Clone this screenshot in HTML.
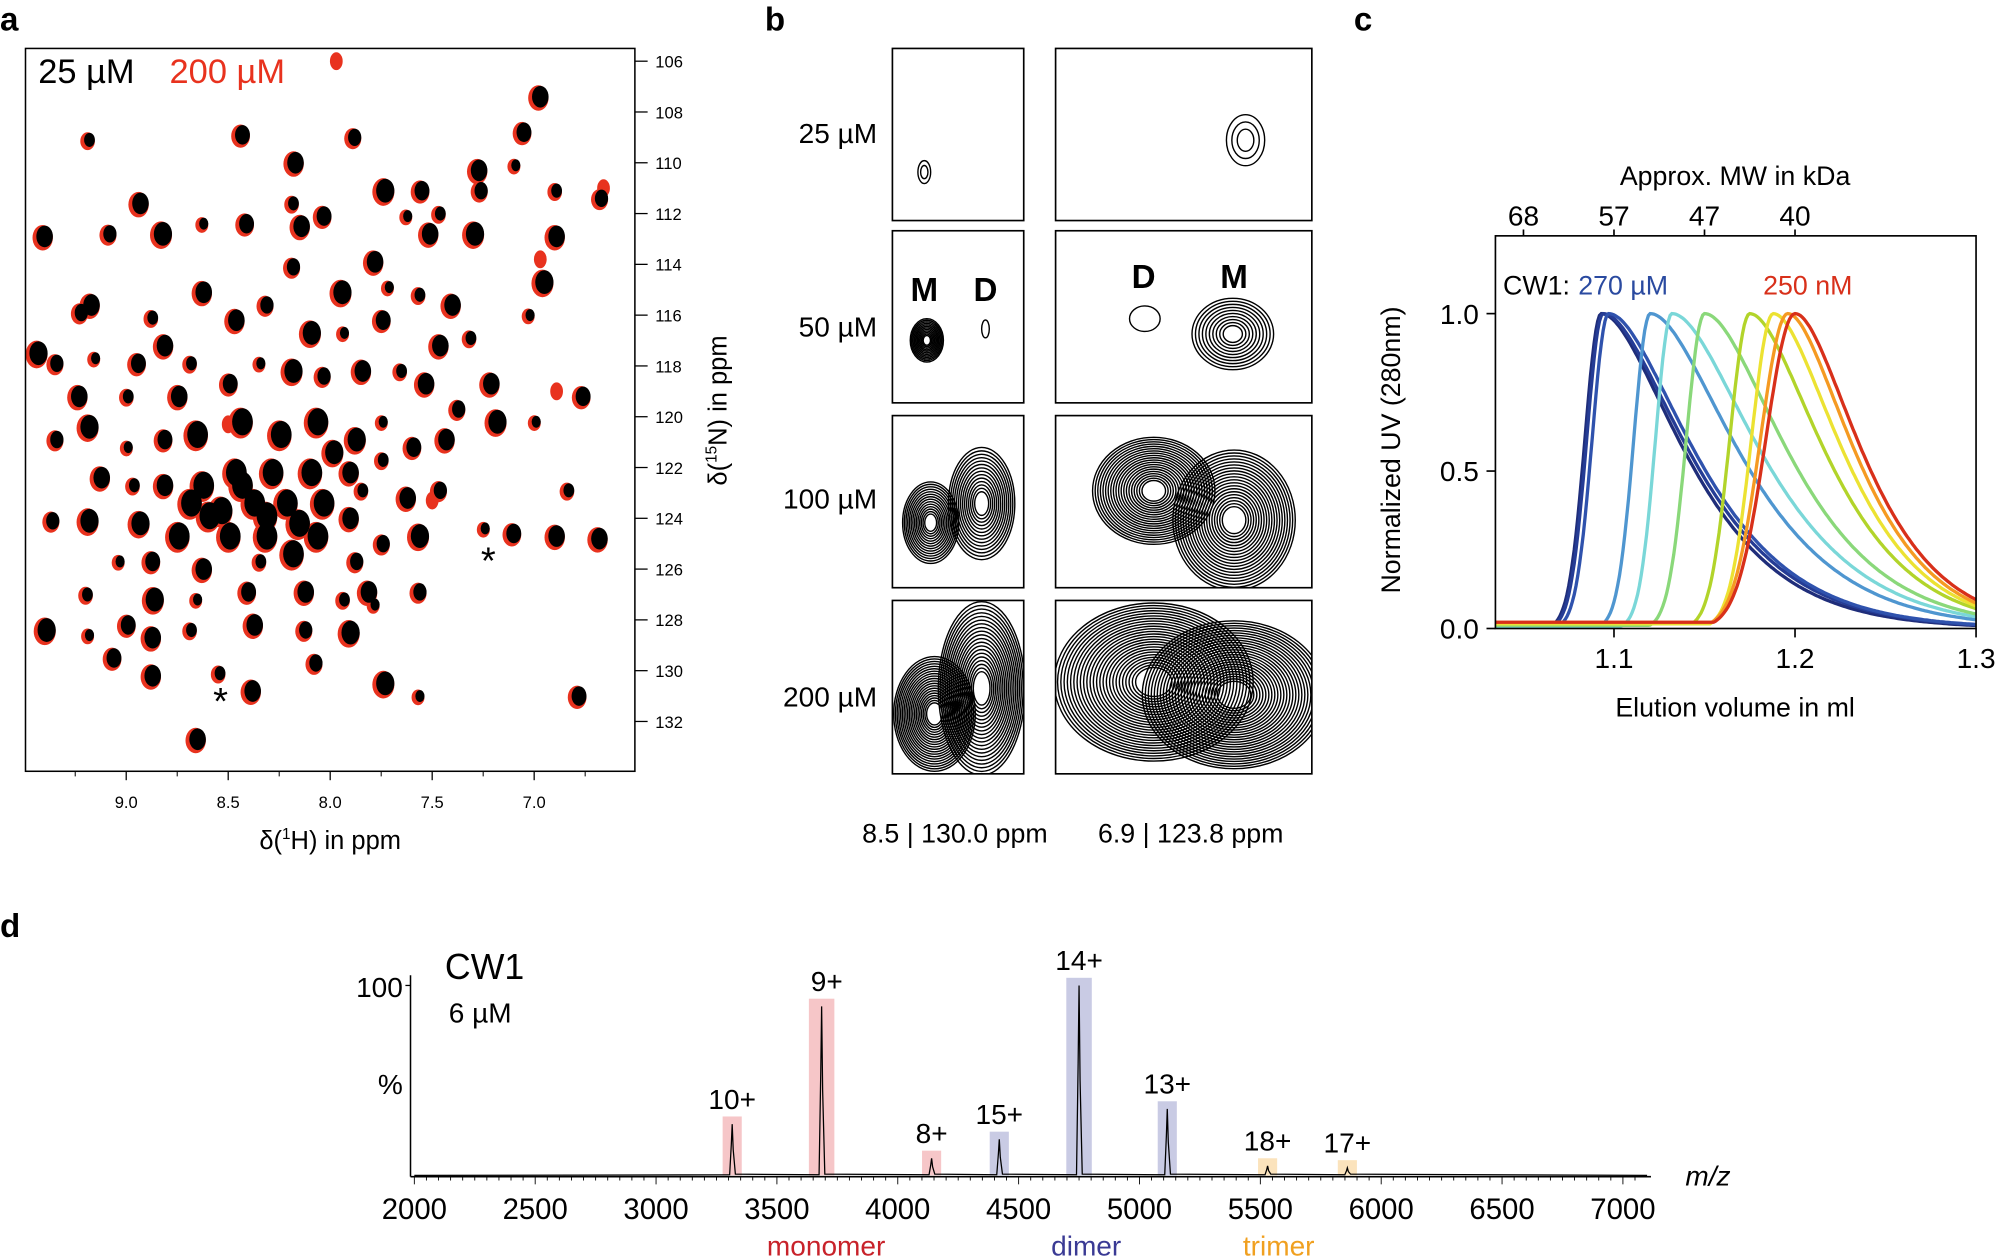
<!DOCTYPE html>
<html><head><meta charset="utf-8">
<style>
html,body{margin:0;padding:0;background:#fff;}
svg{display:block;font-family:"Liberation Sans",Arial,sans-serif;}
</style></head>
<body>
<svg id="fig" width="1999" height="1257" viewBox="0 0 1568 986" preserveAspectRatio="none" xmlns="http://www.w3.org/2000/svg">
  <text x="0" y="24" font-size="26" font-weight="bold">a</text>
  <text x="600" y="24" font-size="26" font-weight="bold">b</text>
  <text x="1062" y="24" font-size="26" font-weight="bold">c</text>
  <text x="0" y="735" font-size="26" font-weight="bold">d</text>

  <g id="pa">
    <defs><clipPath id="clipA"><rect x="20" y="38" width="478" height="567"/></clipPath></defs>
    <g id="peaksA" clip-path="url(#clipA)"></g>
    <rect x="20" y="38" width="478" height="567" fill="none" stroke="#000" stroke-width="1.2"/>
    <g id="axA"></g>
    <text x="30" y="65" font-size="27">25 µM</text>
    <text x="133" y="65" font-size="27" fill="#e8321e">200 µM</text>
    <text x="383" y="450" font-size="30" text-anchor="middle">*</text>
    <text x="173" y="560" font-size="30" text-anchor="middle">*</text>
    <text x="259" y="666" font-size="20" text-anchor="middle">δ(<tspan font-size="12" dy="-8">1</tspan><tspan dy="8">H) in ppm</tspan></text>
    <text transform="translate(570,322) rotate(-90)" font-size="20" text-anchor="middle">δ(<tspan font-size="12" dy="-8">15</tspan><tspan dy="8">N) in ppm</tspan></text>
  </g>

  <g id="pb">
    <text x="688" y="112" font-size="22" text-anchor="end">25 µM</text>
    <text x="688" y="264" font-size="22" text-anchor="end">50 µM</text>
    <text x="688" y="399" font-size="22" text-anchor="end">100 µM</text>
    <text x="688" y="554" font-size="22" text-anchor="end">200 µM</text>
    <g id="contours"></g>
    <text x="725" y="236" font-size="26" font-weight="bold" text-anchor="middle">M</text>
    <text x="773" y="236" font-size="26" font-weight="bold" text-anchor="middle">D</text>
    <text x="897" y="226" font-size="26" font-weight="bold" text-anchor="middle">D</text>
    <text x="968" y="226" font-size="26" font-weight="bold" text-anchor="middle">M</text>
    <text x="749" y="661" font-size="21" text-anchor="middle">8.5 | 130.0 ppm</text>
    <text x="934" y="661" font-size="21" text-anchor="middle">6.9 | 123.8 ppm</text>
  </g>

  <g id="pc">
    <defs><clipPath id="clipC"><rect x="1173" y="185" width="377" height="308"/></clipPath></defs>
    <g id="curvesC" clip-path="url(#clipC)"></g>
    <rect x="1173" y="185" width="377" height="308" fill="none" stroke="#000" stroke-width="1.3"/>
    <g id="axC"></g>
    <text x="1361" y="145" font-size="21" text-anchor="middle">Approx. MW in kDa</text>
    <text x="1361" y="562" font-size="21" text-anchor="middle">Elution volume in ml</text>
    <text transform="translate(1098,353) rotate(-90)" font-size="21" text-anchor="middle">Normalized UV (280nm)</text>
    <text x="1179" y="231" font-size="21">CW1:</text>
    <text x="1238" y="231" font-size="21" fill="#2a4aa0">270 µM</text>
    <text x="1383" y="231" font-size="21" fill="#d8301a">250 nM</text>
  </g>

  <g id="pd">
    <g id="hlD"></g>
    <g id="specD"></g>
    <g id="axD"></g>
    <text x="349" y="768" font-size="28">CW1</text>
    <text x="352" y="802" font-size="22">6 µM</text>
    <text x="316" y="782" font-size="22" text-anchor="end">100</text>
    <text x="316" y="858" font-size="22" text-anchor="end">%</text>
    <text x="1322" y="930" font-size="22" font-style="italic">m/z</text>
    <text x="648" y="985" font-size="22" fill="#c8222a" text-anchor="middle">monomer</text>
    <text x="852" y="985" font-size="22" fill="#3a3a94" text-anchor="middle">dimer</text>
    <text x="1003" y="985" font-size="22" fill="#f0a020" text-anchor="middle">trimer</text>
  </g>
</svg>
<script>
const NS="http://www.w3.org/2000/svg";
function mk(tag,attrs,parent){const e=document.createElementNS(NS,tag);for(const k in attrs)e.setAttribute(k,attrs[k]);parent.appendChild(e);return e;}

/* ---------- Panel a data ---------- */
const peakH=[9.18,8.93,9.08,8.82,8.62,8.43,8.17,8.18,8.14,7.88,7.73,7.62,7.55,7.51,7.46,7.27,7.26,7.29,7.09,7.05,6.97,6.89,6.89,6.67,6.95,7.02,8.03,7.78,7.56,7.40,8.18,7.94,7.71,8.41,8.62,8.87,9.17,9.34,9.43,9.15,8.94,8.81,8.68,8.46,8.31,8.09,7.93,7.74,7.46,7.31,7.53,7.37,7.18,6.99,6.76,7.21,7.65,7.84,8.03,8.18,8.34,8.49,8.74,8.99,9.23,9.34,9.18,8.99,8.81,8.65,8.43,8.24,8.06,7.87,7.74,7.59,7.43,7.74,7.90,8.09,8.28,8.46,8.62,8.81,8.96,9.12,8.68,8.53,8.37,8.21,8.03,7.84,7.62,7.46,8.93,8.74,8.49,8.31,8.06,7.90,7.74,7.56,7.24,7.10,6.89,6.83,6.68,9.36,9.18,9.03,8.87,8.62,8.34,8.18,7.87,8.86,8.65,8.40,8.12,7.93,7.81,7.56,9.39,9.18,8.99,8.87,8.68,8.37,8.12,7.90,7.78,9.06,8.87,8.54,8.38,8.07,7.73,7.56,6.78,8.65,9.19,9.40,9.22,7.98,8.43,8.31,8.59,8.15];
const peakN=[109.1,111.6,112.8,112.8,112.4,108.9,110.0,111.6,112.5,109.0,111.1,112.1,111.1,112.8,112.0,110.3,111.1,112.8,110.1,108.8,107.4,111.1,112.9,111.4,114.7,116.0,112.1,113.9,115.2,115.6,114.1,115.1,114.9,112.4,115.1,116.1,115.6,117.9,117.5,117.7,117.9,117.2,117.9,116.2,115.6,116.7,116.7,116.2,117.2,116.9,118.7,119.7,120.2,120.2,119.2,118.7,118.2,118.2,118.4,118.2,117.9,118.7,119.2,119.2,119.2,120.9,120.4,121.2,120.9,120.7,120.2,120.7,120.2,120.9,120.2,121.2,120.9,121.7,122.2,122.2,122.2,122.2,122.7,122.7,122.7,122.4,123.4,123.7,123.4,123.4,123.4,122.9,123.2,122.9,124.2,124.7,124.7,124.7,124.7,124.0,125.0,124.7,124.4,124.6,124.7,122.9,124.8,124.1,124.1,125.7,125.7,126.0,125.7,125.4,125.7,127.2,127.2,126.9,126.9,127.2,126.9,126.9,128.4,128.6,128.2,128.7,128.4,128.2,128.4,128.5,127.4,129.5,130.2,130.1,130.8,129.7,130.5,131.0,131.0,132.7,127.0,112.9,115.9,121.4,122.7,123.9,123.9,124.2];
const redOnlyH=[7.97,6.97,6.89,6.66,8.50,7.50];
const redOnlyN=[106.0,113.8,119.0,111.0,120.3,123.3];
const xTicksA=[9.0,8.5,8.0,7.5,7.0];
const yTicksA=[106,108,110,112,114,116,118,120,122,124,126,128,130,132];

const xA=h=>99+(9.0-h)*160;
const yA=n=>48+(n-106)*19.92;
const gA=document.getElementById('peaksA');
function isBig(i){return peakN[i]>119.5&&peakN[i]<125.5&&peakH[i]>8.0&&peakH[i]<8.8;}
function sz(i){const s=[0.65,1,0.8,1.1,0.55,0.9,1][i%7];return s;}
for(let i=0;i<redOnlyH.length;i++){
  const e=mk('ellipse',{cx:xA(redOnlyH[i]),cy:yA(redOnlyN[i]),rx:5,ry:7,fill:'#e8321e'},gA);
  
  
}
for(let i=0;i<peakH.length;i++){
  const s=isBig(i)?1.25:sz(i);
  const r=mk('ellipse',{cx:xA(peakH[i])-1.5,cy:yA(peakN[i])+1,rx:6.5*s+1.5,ry:8.5*s+1.5,fill:'#e8321e'},gA);
  
  
}
for(let i=0;i<peakH.length;i++){
  const s=isBig(i)?1.25:sz(i);
  const b=mk('ellipse',{cx:xA(peakH[i]),cy:yA(peakN[i]),rx:6.5*s,ry:8.5*s,fill:'#000'},gA);
  
  
}
const axA=document.getElementById('axA');
xTicksA.forEach(t=>{
  const l=mk('line',{x1:xA(t),x2:xA(t),y1:605,y2:612,stroke:'#000','stroke-width':1},axA);
  
  
  const tx=mk('text',{x:xA(t),y:634,'font-size':13,'text-anchor':'middle'},axA);tx.textContent=t.toFixed(1);
  
  
});
[9.25,8.75,8.25,7.75,7.25,6.75].forEach(t=>{mk('line',{x1:xA(t),x2:xA(t),y1:605,y2:609,stroke:'#000','stroke-width':0.8},axA);});
yTicksA.forEach(t=>{
  const l=mk('line',{x1:498,x2:508,y1:yA(t),y2:yA(t),stroke:'#000','stroke-width':1},axA);
  
  
  const tx=mk('text',{x:514,y:yA(t)+5,'font-size':13},axA);tx.textContent=t;
  
  
});

/* ---------- Panel b contours ---------- */
const boxesB=[[700,38,103,135],[828,38,201,135],[700,181,103,135],[828,181,201,135],[700,326,103,135],[828,326,201,135],[700,471,103,136],[828,471,201,136]];
const lobesB=[
 [[725,135,5,9,2]],
 [[977,110,15,20,3]],
 [[727,267,13,17,12],[773,258,3,7,1]],
 [[898,250,12,10,1],[967,262,32,28,10]],
 [[730,410,22,32,14],[770,395,26,44,14]],
 [[905,385,48,42,20],[968,408,48,55,20]],
 [[733,560,32,45,20],[770,540,34,68,20]],
 [[905,535,78,62,26],[968,545,72,58,26]]
];
const gB=document.getElementById('contours');
boxesB.forEach((b,i)=>{
  const id='clipB'+i;
  const cp=mk('clipPath',{id:id},gB);mk('rect',{x:b[0],y:b[1],width:b[2],height:b[3]},cp);
  const g=mk('g',{'clip-path':`url(#${id})`},gB);
  lobesB[i].forEach(L=>{
    const n=L[4];
    for(let k=1;k<=n;k++){
      const f=n===1?1:(0.15+0.85*k/n);
      const e=mk('ellipse',{cx:L[0],cy:L[1],rx:L[2]*f,ry:L[3]*f,fill:'none',stroke:'#000','stroke-width':1.1},g);
      
      
    }
  });
  const r=mk('rect',{x:b[0],y:b[1],width:b[2],height:b[3],fill:'none',stroke:'#000','stroke-width':1.3},gB);
  
  
});

/* ---------- Panel c data ---------- */
const peakVol=[1.093,1.094,1.097,1.12,1.132,1.15,1.175,1.188,1.196,1.2];
const riseSigma=[0.009,0.009,0.009,0.009,0.009,0.01,0.011,0.012,0.015,0.016];
const tailTau=[0.031,0.032,0.032,0.033,0.033,0.031,0.028,0.026,0.025,0.025];
const baseline=[0,0,0,0,0,0.01,0.015,0.015,0.02,0.02];
const seriesColors=['#1f2d7a','#253c95','#2f52ad','#4f96d0','#7ad7d8','#8ad87a','#b2d42a','#ece232','#f59a22','#d8301a'];
const xTicksC=[1.1,1.2,1.3];
const yTicksC=[0.0,0.5,1.0];
const topTickLabels=['68','57','47','40'];
const topTickVol=[1.05,1.1,1.15,1.2];
const xC=v=>1266+(v-1.1)*1420;
const yC=u=>493-u*247;
const gC=document.getElementById('curvesC');
peakVol.forEach((p,i)=>{
  let d='';
  for(let v=1.03;v<=1.305;v+=0.001){
    const dd=v-p;let u;
    if(dd<0)u=Math.exp(-dd*dd/(2*riseSigma[i]*riseSigma[i]));
    else u=Math.exp(-dd/tailTau[i])*(1+dd/tailTau[i]);
    u=Math.max(u,baseline[i]);
    d+=(d?'L':'M')+xC(v).toFixed(1)+','+yC(u).toFixed(1);
  }
  const pth=mk('path',{d:d,fill:'none',stroke:seriesColors[i],'stroke-width':2.6},gC);
  
  
});
const axC=document.getElementById('axC');
xTicksC.forEach(t=>{
  mk('line',{x1:xC(t),x2:xC(t),y1:493,y2:500,stroke:'#000','stroke-width':1.3},axC);
  const tx=mk('text',{x:xC(t),y:524,'font-size':22,'text-anchor':'middle'},axC);tx.textContent=t.toFixed(1);
  
  
});
yTicksC.forEach(t=>{
  mk('line',{x1:1166,x2:1173,y1:yC(t),y2:yC(t),stroke:'#000','stroke-width':1.3},axC);
  const tx=mk('text',{x:1160,y:yC(t)+8,'font-size':22,'text-anchor':'end'},axC);tx.textContent=t.toFixed(1);
  
  
});
topTickVol.forEach((v,i)=>{
  const x=xC(v);
  mk('line',{x1:x,x2:x,y1:180,y2:185,stroke:'#000','stroke-width':1.3},axC);
  const tx=mk('text',{x:x,y:177,'font-size':22,'text-anchor':'middle'},axC);tx.textContent=topTickLabels[i];
  
  
});

/* ---------- Panel d data ---------- */
const msLabels=['10+','9+','8+','15+','14+','13+','18+','17+'];
const msMz=[3315,3685,4140,4420,4750,5115,5530,5860];
const msIntensity=[27,89,9,19,100,35,5,4];
const msGroup=['m','m','m','d','d','d','t','t'];
const xTicksD=[2000,2500,3000,3500,4000,4500,5000,5500,6000,6500,7000];
const xD=m=>325+(m-2000)*0.1896;
const yD=p=>922-p*1.49;
const hlColor={m:'#f6c6c8',d:'#c9cbe4',t:'#fbe3bc'};
const hl=document.getElementById('hlD'),sp=document.getElementById('specD');
msMz.forEach((m,i)=>{
  const w=msIntensity[i]>80?20:15;
  const top=yD(msIntensity[i])-6;
  const r=mk('rect',{x:xD(m)-w/2,y:top,width:w,height:922-top,fill:hlColor[msGroup[i]]},hl);
  
  
  const tx=mk('text',{x:xD(m)+(i===1?4:0),y:top-6,'font-size':22,'text-anchor':'middle'},sp);tx.textContent=msLabels[i];
  
  
});
let dpath='M'+xD(2000)+','+922;
const evts=[];
msMz.forEach((m,i)=>evts.push([m,msIntensity[i]]));
evts.sort((a,b)=>a[0]-b[0]);
evts.forEach(e=>{
  const x=xD(e[0]);
  dpath+=`L${x-2},921.5L${x-0.7},${yD(e[1]*0.6)}L${x},${yD(e[1])}L${x+0.8},${yD(e[1]*0.5)}L${x+2.5},921`;
});
dpath+='L'+xD(7100)+',922';
const trace=mk('path',{d:dpath,fill:'none',stroke:'#000','stroke-width':1},sp);


const axD=document.getElementById('axD');
mk('line',{x1:322,x2:322,y1:765,y2:923,stroke:'#000','stroke-width':1.2},axD);
mk('line',{x1:318,x2:322,y1:773,y2:773,stroke:'#000','stroke-width':1},axD);
mk('line',{x1:322,x2:1295,y1:923,y2:923,stroke:'#000','stroke-width':1.2},axD);
for(let m=2000;m<=7050;m+=50){mk('line',{x1:xD(m),x2:xD(m),y1:923,y2:m%500===0?929:926,stroke:'#000','stroke-width':0.7},axD);}
xTicksD.forEach(t=>{
  const tx=mk('text',{x:xD(t),y:956,'font-size':23,'text-anchor':'middle'},axD);tx.textContent=t;
  
  
});
</script>
</body></html>
